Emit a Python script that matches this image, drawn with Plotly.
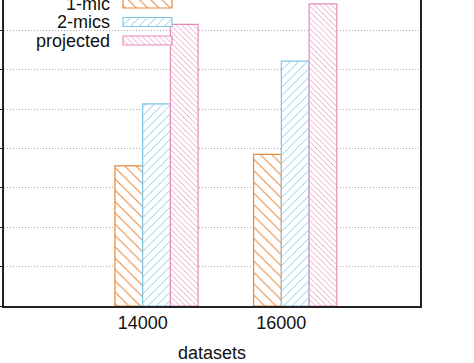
import plotly.graph_objects as go

categories = ["14000", "16000"]
series_names = ["1-mic", "2-mics", "projected"]
one_mic = [3.56, 3.85]
two_mics = [5.13, 6.22]
projected = [7.15, 7.67]

colors = ["#E8873A", "#7CC7E6", "#E48DBB"]
shapes = ["\\", "/", "\\"]
psizes = [8, 6, 4]
solid = [0.13, 0.15, 0.2]
offsets = [-0.2, 0.0, 0.2]
values = [one_mic, two_mics, projected]

FONT = "Liberation Sans, Arial, sans-serif"

fig = go.Figure()
for name, vals, col, shp, ps, so, off in zip(series_names, values, colors, shapes, psizes, solid, offsets):
    fig.add_trace(go.Bar(
        x=categories, y=vals, name=name, width=0.2, offset=off,
        marker=dict(color="white", line=dict(color=col, width=1.2),
                    pattern=dict(shape=shp, fgcolor=col, bgcolor="white",
                                 size=ps, solidity=so, fillmode="replace")),
        showlegend=False,
    ))

# custom legend (text left of swatch, gnuplot style) on a pixel-like overlay axis
legend_rows = [3.5, 22.0, 40.5]
for name, col, shp, ps, so, row in zip(series_names, colors, shapes, psizes, solid, legend_rows):
    fig.add_trace(go.Bar(
        x=[49], y=[row], base=[123], orientation="h", width=9,
        xaxis="x2", yaxis="y2", showlegend=False, hoverinfo="skip",
        marker=dict(color="white", line=dict(color=col, width=1.2),
                    pattern=dict(shape=shp, fgcolor=col, bgcolor="white",
                                 size=ps, solidity=so, fillmode="replace")),
    ))
    fig.add_annotation(x=112, y=row, xref="x2", yref="y2", text=name,
                       showarrow=False, xanchor="right", yanchor="middle",
                       font=dict(family=FONT, size=18, color="#111"))

fig.update_layout(
    width=474, height=363,
    margin=dict(l=4, r=54, t=0, b=57, autoexpand=False),
    paper_bgcolor="white", plot_bgcolor="white",
    barmode="overlay",
    font=dict(family=FONT, size=18, color="#111"),
    xaxis=dict(range=[-1, 2], type="category", showgrid=False, ticks="",
               automargin=False,
               showline=True, linecolor="#222", linewidth=1.5, mirror=False,
               title=dict(text="datasets", standoff=15, font=dict(size=18)),
               tickfont=dict(size=18), zeroline=False),
    yaxis=dict(range=[0, 7.77], dtick=1, showticklabels=False, automargin=False,
               ticks="outside", ticklen=4, tickcolor="#222", tickwidth=1.2,
               showgrid=True, gridcolor="#aaaaaa", griddash="1px,2px", gridwidth=1,
               showline=True, linecolor="#222", linewidth=1.5, mirror=True,
               zeroline=False),
    xaxis2=dict(range=[4, 420], overlaying="x", visible=False, fixedrange=True),
    yaxis2=dict(range=[306, 0], overlaying="y", visible=False, fixedrange=True),
)

fig.write_html("out.html", config={"displayModeBar": False},
               post_script="document.body.style.margin='0px';document.body.style.overflow='hidden';")
